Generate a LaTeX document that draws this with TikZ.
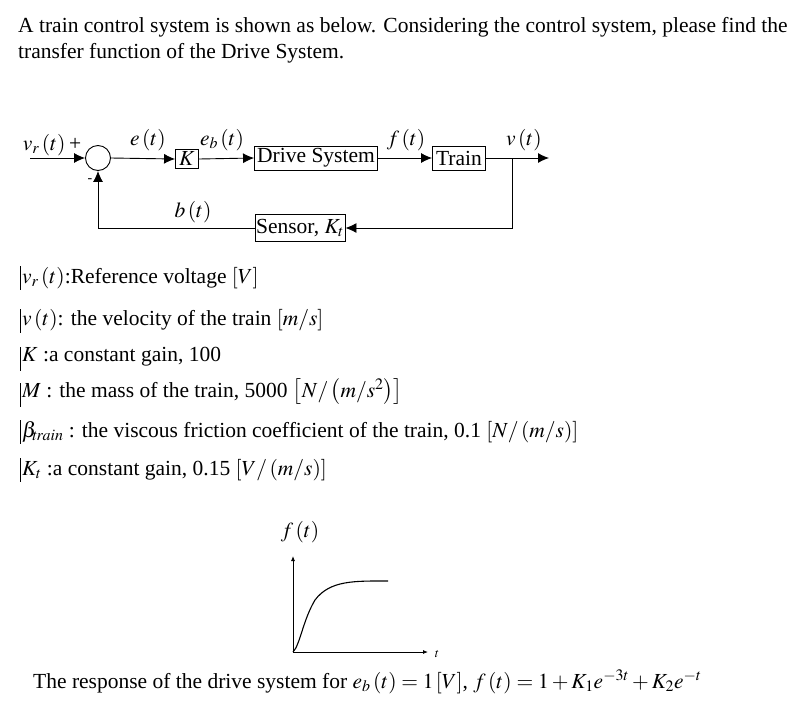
\documentclass[tikz,border=0pt]{standalone}
\usepackage{mathptmx}
\usepackage{fontspec}
\setmainfont{Liberation Serif}
\usetikzlibrary{arrows.meta}
\begin{document}
\begin{tikzpicture}[x=1pt,y=-1pt,font=\fontsize{21.5}{24}\selectfont,
  blk/.style={draw,line width=0.9pt,inner sep=1pt,anchor=center},
  sig/.style={line width=0.9pt,-{Latex[length=11pt,width=10pt]}},
  txt/.style={anchor=base west,inner sep=0pt}]
\useasboundingbox (0,0) rectangle (803,718);
\node[txt] (t1) at (18,32) {A train control system is shown as below. Considering the control system, please find the};
\node[txt] (t2) at (18,58) {transfer function of the Drive System.};
% block diagram
\coordinate (in) at (30,158);
\node[draw,circle,minimum size=25pt,inner sep=0pt,line width=0.9pt] (sum) at (98,158) {};
\node[blk,minimum width=23pt,minimum height=19pt] (K) at (187,159) {$K$};
\node[blk,minimum width=123pt,minimum height=24pt] (D) at (316,158) {Drive System};
\node[blk,minimum width=53pt,minimum height=24pt] (T) at (459,158) {Train};
\node[blk,minimum width=90pt,minimum height=27pt] (S) at (300,228) {Sensor, $K_t$};
\coordinate (out) at (549,158);
\coordinate (br) at (512,158);
\draw[sig] (in) -- (sum.west);
\draw[sig] (sum.east) -- (K.west);
\draw[sig] (K.east) -- (D.west);
\draw[sig] (D.east) -- (T.west);
\draw[sig] (T.east) -- (out);
\draw[sig] (br) |- (S.east);
\draw[sig] (S.west) -| (sum.south);
\node (l1) at (52,145) {$v_r\left(t\right)$\,+};
\node (l2) at (148,140) {$e\left(t\right)$};
\node (l3) at (222,140) {$e_b\left(t\right)$};
\node (l4) at (406,140) {$f\left(t\right)$};
\node (l5) at (524,140) {$v\left(t\right)$};
\node[font=\fontsize{14}{16}\selectfont] (l6) at (90,181) {-};
\node (l7) at (193,212) {$b\left(t\right)$};
% definitions
\foreach \y/\ya in {283/266,325/309,361/347,397/383,437/420,475/458}{
  \draw[line width=0.7pt] (20,\ya) -- (20,\ya+24);}
\node[txt] (d1) at (22,283) {$v_r\left(t\right)$:Reference voltage $\left[V\right]$};
\node[txt] (d2) at (22,325) {$v\left(t\right)$: the velocity of the train $\left[m/s\right]$};
\node[txt] (d3) at (22,361) {$K$ :a constant gain, 100};
\node[txt] (d4) at (22,397) {$M$ : the mass of the train, 5000 $\left[N/\left(m/s^2\right)\right]$};
\node[txt] (d5) at (22,437) {$\beta_{\!\mathit{train}}$\ : the viscous friction coefficient of the train, 0.1 $\left[N/\left(m/s\right)\right]$};
\node[txt] (d6) at (22,475) {$K_t$ :a constant gain, 0.15 $\left[V/\left(m/s\right)\right]$};
% graph
\coordinate (o) at (293,652);
\coordinate (ya) at (293,556);
\coordinate (xa) at (428,652);
\draw[line width=0.8pt,-{Latex[length=5pt,width=4pt]}] (o) -- (ya);
\draw[line width=0.8pt,-{Latex[length=5pt,width=4pt]}] (o) -- (xa);
\draw[line width=1.1pt] (o) .. controls (300,645) and (303,620) .. (315,600) .. controls (330,580) and (355,581) .. (388,581);
\node (ft) at (300,532) {$f\left(t\right)$};
\node[font=\fontsize{13}{15}\selectfont] (tl) at (437,654) {$t$};
\node[txt] (b1) at (33,688) {The response of the drive system for $e_b\left(t\right)=1\left[V\right]$, $f\left(t\right)=1+K_1e^{-3t}+K_2e^{-t}$};
\end{tikzpicture}
\end{document}
